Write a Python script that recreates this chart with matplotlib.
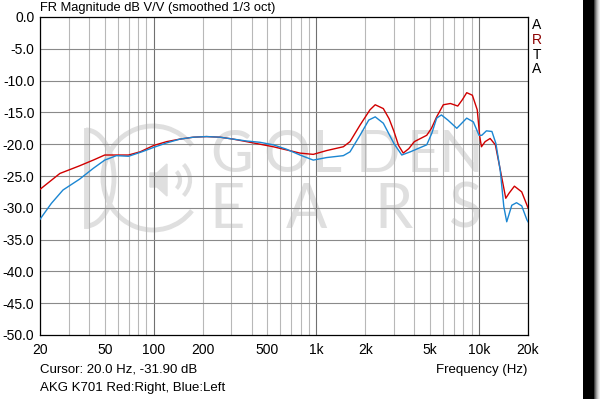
import numpy as np
import matplotlib
matplotlib.use("Agg")
import matplotlib.pyplot as plt
from matplotlib.patches import Arc, Polygon, Rectangle

# right channel (red)
red_freq = [20, 26.5, 35, 42.5, 50, 60, 70, 82.5, 100, 120, 145, 175, 211, 256,
            308, 373, 450, 543, 657, 793, 957, 1157, 1465, 1610, 1855, 2135,
            2300, 2580, 2800, 3000, 3200, 3420, 3700, 4000, 4770, 5100, 5490,
            6030, 6670, 7400, 7900, 8400, 9100, 9750, 10100, 10350, 10900,
            11700, 12600, 13500, 14600, 15300, 16500, 18300, 20000]
red_db = [-27.1, -24.6, -23.4, -22.5, -21.7, -21.7, -21.7, -21.2, -20.2, -19.6,
          -19.2, -18.9, -18.8, -18.9, -19.2, -19.6, -20.0, -20.4, -20.9, -21.4,
          -21.6, -21.0, -20.4, -19.6, -17.0, -14.6, -13.8, -14.4, -16.0, -18.0,
          -20.2, -21.4, -20.7, -19.6, -18.6, -17.5, -15.7, -13.8, -13.6, -14.0,
          -13.0, -11.9, -12.3, -14.6, -18.8, -20.4, -19.6, -19.1, -20.1, -24.0,
          -28.5, -27.7, -26.6, -27.5, -30.0]

# left channel (blue)
blue_freq = [20, 23.5, 27.7, 35, 42.5, 50, 59, 70, 84.5, 100, 120, 145, 175, 211,
             256, 308, 373, 450, 543, 657, 793, 957, 1157, 1465, 1610, 1855,
             2100, 2300, 2580, 3000, 3350, 3780, 4770, 5120, 5490, 5870, 6430,
             7300, 8400, 9230, 10000, 10400, 11100, 12000, 12700, 13500, 14200,
             14800, 15900, 17000, 18300, 19700, 20000]
blue_db = [-31.8, -29.3, -27.2, -25.5, -23.8, -22.5, -21.8, -21.9, -21.2, -20.5,
           -19.8, -19.2, -18.9, -18.8, -18.9, -19.2, -19.5, -19.7, -20.1, -20.8,
           -21.7, -22.5, -22.1, -21.8, -21.2, -18.6, -16.2, -15.7, -16.7, -19.9,
           -21.7, -21.2, -20.1, -18.3, -15.9, -15.4, -16.2, -17.5, -15.9, -16.5,
           -18.6, -18.6, -17.9, -18.0, -19.9, -24.1, -29.8, -32.2, -29.6, -29.2,
           -29.7, -31.9, -32.2]

x_ticks = [20, 50, 100, 200, 500, 1000, 2000, 5000, 10000, 20000]
x_labels = ["20", "50", "100", "200", "500", "1k", "2k", "5k", "10k", "20k"]
y_ticks = list(range(0, -55, -5))
y_labels = [f"{v:.1f}" for v in y_ticks]

W, H = 600, 399
FONT = "Liberation Sans"


def box(x0, y0, x1, y1):
    # pixel box (top-left origin) -> figure fraction rect
    return [x0 / W, 1 - y1 / H, (x1 - x0) / W, (y1 - y0) / H]


def draw_watermark(fig):
    wm = fig.add_axes([0, 0, 1, 1], zorder=1)
    wm.set_xlim(0, W)
    wm.set_ylim(H, 0)
    wm.axis("off")
    shade = "#dfdfdf"

    # letters sit on baselines so the two words stay clear of each other
    for letter, x in zip("GOLDEN", [232, 287, 327, 378, 423, 461]):
        wm.text(x, 172, letter, fontsize=42, color=shade, family="Lato",
                ha="center", va="baseline")
    for letter, x in zip("EARS", [227, 307, 393, 466]):
        wm.text(x, 228, letter, fontsize=44, color=shade, family="Lato",
                ha="center", va="baseline")

    # "DC" logo with a small speaker
    wm.plot([86, 86], [130, 226], color=shade, lw=3.5)
    wm.add_patch(Arc((86, 178), 56, 96, theta1=-90, theta2=90, color=shade, lw=3.5))
    wm.add_patch(Arc((153, 178), 100, 104, theta1=40, theta2=320, color=shade, lw=3.5))
    wm.add_patch(Polygon([(150, 173), (157, 173), (167, 164), (167, 196), (157, 187), (150, 187)],
                         closed=True, color=shade))
    for r in (12, 22):
        wm.add_patch(Arc((168, 180), 2 * r, 2 * r, theta1=-45, theta2=45, color=shade, lw=3))


def main():
    fig = plt.figure(figsize=(W / 100, H / 100), dpi=100)
    fig.patch.set_facecolor("white")

    draw_watermark(fig)

    ax = fig.add_axes(box(40, 17, 528, 335), zorder=2)
    ax.set_facecolor("none")
    ax.set_xscale("log")
    ax.set_xlim(20, 20000)
    ax.set_ylim(-50, 0)

    # grid: 1-9 multiples per decade, decades darker
    for decade in (10, 100, 1000, 10000):
        for m in range(1, 10):
            f = decade * m
            if f < 20 or f > 20000:
                continue
            color = "#707070" if m == 1 else "#b8b8b8"
            ax.axvline(f, color=color, lw=0.8, zorder=1)
    for v in y_ticks[1:-1]:
        ax.axhline(v, color="#8a8a8a", lw=0.8, zorder=1)

    ax.plot(red_freq, red_db, color="#d10000", lw=1.0, zorder=3)
    ax.plot(blue_freq, blue_db, color="#1b86d2", lw=1.0, zorder=4)

    ax.set_xticks(x_ticks)
    ax.set_xticklabels(x_labels)
    ax.xaxis.set_minor_locator(plt.NullLocator())
    ax.set_yticks(y_ticks)
    ax.set_yticklabels(y_labels)
    ax.tick_params(axis="both", length=0, labelsize=10, colors="black")
    ax.tick_params(axis="x", pad=6)
    ax.tick_params(axis="y", pad=4)
    for label in ax.get_xticklabels() + ax.get_yticklabels():
        label.set_family(FONT)
    for spine in ax.spines.values():
        spine.set_color("black")
        spine.set_linewidth(0.9)

    fig.text(40 / W, 1 - 8 / H, "FR Magnitude dB V/V (smoothed 1/3 oct)",
             family=FONT, fontsize=9.3, ha="left", va="center")
    fig.text(40 / W, 1 - 370 / H, "Cursor: 20.0 Hz, -31.90 dB",
             family=FONT, fontsize=9.5, ha="left", va="center")
    fig.text(40 / W, 1 - 388 / H, "AKG K701 Red:Right, Blue:Left",
             family=FONT, fontsize=9.5, ha="left", va="center")
    fig.text(527 / W, 1 - 370 / H, "Frequency (Hz)",
             family=FONT, fontsize=9.5, ha="right", va="center")

    for letter, y, color in zip("ARTA", [25, 40, 55, 69], ["black", "#8b0000", "black", "black"]):
        fig.text(537 / W, 1 - y / H, letter, family=FONT, fontsize=10,
                 color=color, ha="center", va="center")

    # window shadow on the right edge
    fig.patches.append(Rectangle((583 / W, 0), 11 / W, 1, transform=fig.transFigure,
                                 facecolor="black", edgecolor="none"))
    for i, grey in enumerate(["#404040", "#707070", "#9a9a9a", "#bdbdbd", "#d8d8d8", "#ececec"]):
        fig.patches.append(Rectangle(((594 + i) / W, 0), 1 / W, 1, transform=fig.transFigure,
                                     facecolor=grey, edgecolor="none"))

    fig.savefig("out.png", dpi=100)
    plt.close(fig)


if __name__ == "__main__":
    main()
